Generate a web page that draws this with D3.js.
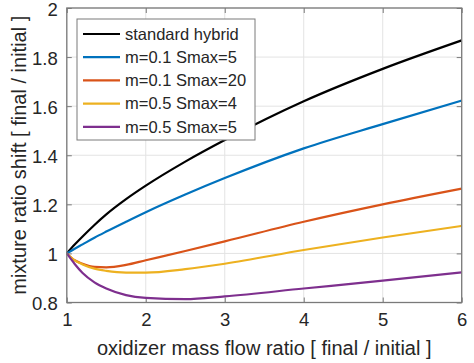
<!DOCTYPE html>
<html>
<head>
<meta charset="utf-8">
<script src="https://cdn.jsdelivr.net/npm/d3@7"></script>
<style>
    body { margin: 0; background: #fff; }
    text { font-family: "Liberation Sans", Arial, sans-serif; fill: #262626; }
</style>
</head>
<body>
<div id="chart"></div>
<script>
(function() {
    // values
    const flowRatio = [1, 1.1, 1.2, 1.35, 1.5, 1.75, 2, 2.5, 3, 4, 5, 6];
    const standardHybrid = [1, 1.036, 1.069, 1.116, 1.159, 1.221, 1.276, 1.374, 1.462, 1.62, 1.752, 1.868];
    const m01Smax5 = [1, 1.019, 1.037, 1.064, 1.089, 1.129, 1.168, 1.24, 1.307, 1.428, 1.527, 1.623];
    const m01Smax20 = [1, 0.972, 0.958, 0.945, 0.943, 0.953, 0.972, 1.01, 1.049, 1.129, 1.2, 1.264];
    const m05Smax4 = [1, 0.972, 0.955, 0.938, 0.929, 0.922, 0.922, 0.936, 0.958, 1.014, 1.065, 1.112];
    const m05Smax5 = [1, 0.957, 0.92, 0.882, 0.857, 0.83, 0.819, 0.814, 0.825, 0.857, 0.889, 0.923];

    const seriesNames = ["standard hybrid", "m=0.1 Smax=5", "m=0.1 Smax=20", "m=0.5 Smax=4", "m=0.5 Smax=5"];
    const seriesValues = [standardHybrid, m01Smax5, m01Smax20, m05Smax4, m05Smax5];
    const colors = ["#000000", "#0072BD", "#D95319", "#EDB120", "#7E2F8E"];

    const xTicks = [1, 2, 3, 4, 5, 6];
    const yTicks = [0.8, 1, 1.2, 1.4, 1.6, 1.8, 2];

    const width = 474, height = 363;
    const left = 66.8, right = 461.7, top = 8, bottom = 302.5;

    const x = d3.scaleLinear().domain([1, 6]).range([left, right]);
    const y = d3.scaleLinear().domain([0.8, 2]).range([bottom, top]);

    const svg = d3.select("#chart")
        .append("svg")
        .attr("width", width)
        .attr("height", height);

    // grid
    svg.append("g")
        .selectAll("line")
        .data(xTicks)
        .join("line")
        .attr("x1", d => x(d)).attr("x2", d => x(d))
        .attr("y1", top).attr("y2", bottom)
        .attr("stroke", "#e3e3e3");
    svg.append("g")
        .selectAll("line")
        .data(yTicks)
        .join("line")
        .attr("x1", left).attr("x2", right)
        .attr("y1", d => y(d)).attr("y2", d => y(d))
        .attr("stroke", "#e3e3e3");

    // axes with inward ticks on all sides
    const axisStyle = g => {
        g.select(".domain").remove();
        g.selectAll(".tick line").attr("stroke", "#7a7a7a").attr("stroke-width", 1);
        g.selectAll("text")
            .style("font-size", "18.5px")
            .attr("fill", "#262626");
    };
    svg.append("g")
        .attr("transform", "translate(0," + bottom + ")")
        .call(d3.axisBottom(x).tickValues(xTicks).tickFormat(d3.format("d")).tickSizeInner(-5).tickPadding(10))
        .call(axisStyle);
    svg.append("g")
        .attr("transform", "translate(0," + top + ")")
        .call(d3.axisTop(x).tickValues(xTicks).tickSizeInner(-5).tickFormat(""))
        .call(axisStyle);
    svg.append("g")
        .attr("transform", "translate(" + left + ",0)")
        .call(d3.axisLeft(y).tickValues(yTicks).tickFormat(d => d3.format("")(+d.toFixed(1))).tickSizeInner(-5).tickPadding(9))
        .call(axisStyle)
        .selectAll("text").attr("dy", "0.4em");
    svg.append("g")
        .attr("transform", "translate(" + right + ",0)")
        .call(d3.axisRight(y).tickValues(yTicks).tickSizeInner(-5).tickFormat(""))
        .call(axisStyle);

    // lines
    const line = d3.line()
        .x((d, i) => x(flowRatio[i]))
        .y(d => y(d))
        .curve(d3.curveMonotoneX);

    svg.append("g")
        .selectAll("path")
        .data(seriesValues)
        .join("path")
        .attr("fill", "none")
        .attr("stroke", (d, i) => colors[i])
        .attr("stroke-width", 2.2)
        .attr("d", line);

    // plot box
    svg.append("rect")
        .attr("x", left).attr("y", top)
        .attr("width", right - left).attr("height", bottom - top)
        .attr("fill", "none")
        .attr("stroke", "#7a7a7a")
        .attr("stroke-width", 1.3);

    // legend
    const legend = svg.append("g");
    legend.append("rect")
        .attr("x", 77).attr("y", 19)
        .attr("width", 178).attr("height", 121)
        .attr("fill", "#fff")
        .attr("stroke", "#7a7a7a")
        .attr("stroke-width", 1);
    const item = legend.selectAll("g")
        .data(seriesNames)
        .join("g")
        .attr("transform", (d, i) => "translate(0," + (34 + i * 23.2) + ")");
    item.append("line")
        .attr("x1", 83).attr("x2", 120)
        .attr("stroke", (d, i) => colors[i])
        .attr("stroke-width", 2.2);
    item.append("text")
        .attr("x", 125)
        .attr("dy", "0.35em")
        .style("font-size", "16.5px")
        .text(d => d);

    // axis labels
    svg.append("text")
        .attr("x", (left + right) / 2)
        .attr("y", 355)
        .attr("text-anchor", "middle")
        .style("font-size", "20px")
        .text("oxidizer mass flow ratio [ final / initial ]");
    svg.append("text")
        .attr("transform", "translate(26," + ((top + bottom) / 2) + ") rotate(-90)")
        .attr("text-anchor", "middle")
        .style("font-size", "20px")
        .text("mixture ratio shift [ final / initial ]");
})();
</script>
</body>
</html>
